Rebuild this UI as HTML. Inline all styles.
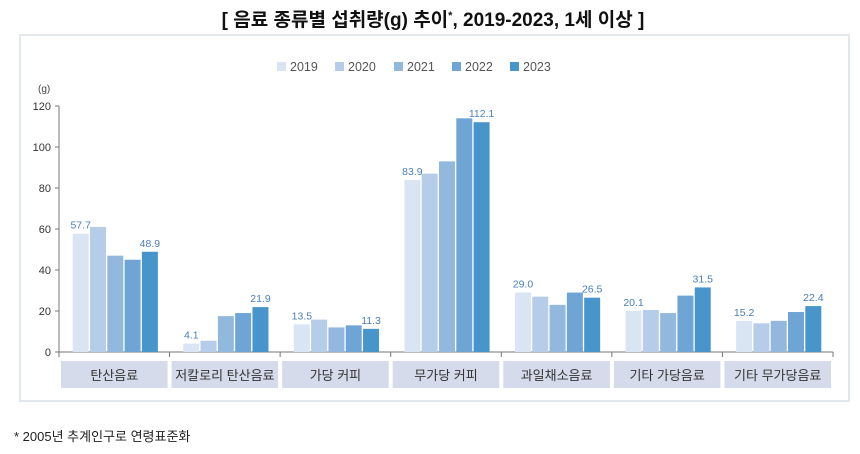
<!DOCTYPE html>
<html><head><meta charset="utf-8">
<style>
body{margin:0;background:#fff;font-family:"Liberation Sans","Noto Sans CJK KR",sans-serif;}
#wrap{position:relative;width:860px;height:454px;overflow:hidden;}
</style></head>
<body>
<div id="wrap">
<svg id="chart" width="860" height="454" xmlns="http://www.w3.org/2000/svg">
<text x="433" y="26" text-anchor="middle" font-size="19" font-weight="bold" fill="#111" font-family="Liberation Sans, Noto Sans CJK KR, sans-serif">[ 음료 종류별 섭취량(g) 추이<tspan font-size="11" dy="-7">*</tspan><tspan dy="7">, 2019-2023, 1세  이상 ]</tspan></text>
<rect x="20" y="35" width="829" height="366" fill="none" stroke="#e3e8ef" stroke-width="2"/>
<text x="38" y="92" font-size="10" fill="#444">(g)</text>
<g id="axes"></g><g id="bars"></g><g id="legend"></g>
<text x="14" y="441" font-size="13" fill="#222">*  2005년 추계인구로 연령표준화</text>
</svg>
</div>
<script>
const categories=["탄산음료","저칼로리 탄산음료","가당 커피","무가당 커피","과일채소음료","기타 가당음료","기타 무가당음료"];
const years=["2019","2020","2021","2022","2023"];
const s2019=[57.7,4.1,13.5,83.9,29.0,20.1,15.2];
const s2020=[61,5.5,15.8,87,27,20.5,14];
const s2021=[47,17.5,12,93,23,19,15.2];
const s2022=[45,19,13,114,29,27.5,19.5];
const s2023=[48.9,21.9,11.3,112.1,26.5,31.5,22.4];
const yTicks=[0,20,40,60,80,100,120];
const labelFirst=["57.7","4.1","13.5","83.9","29.0","20.1","15.2"];
const labelLast=["48.9","21.9","11.3","112.1","26.5","31.5","22.4"];
const series=[s2019,s2020,s2021,s2022,s2023];
const colors=["#dae5f3","#b5cde8","#93b8de","#6ea5d5","#4895cb"];
const NS="http://www.w3.org/2000/svg";
const x0=59,x1=833,yBase=352,yTop=106,yMax=120;
const gw=(x1-x0)/categories.length;
const y=v=>yBase-(v/yMax)*(yBase-yTop);
function mk(t,a,p){const e=document.createElementNS(NS,t);for(const k in a)e.setAttribute(k,a[k]);p.appendChild(e);return e;}
const axes=document.getElementById('axes'),bars=document.getElementById('bars'),legend=document.getElementById('legend');
let ax=mk('line',{x1:x0,y1:yTop,x2:x0,y2:yBase,stroke:'#777'},axes);


let bx=mk('line',{x1:x0,y1:yBase,x2:x1,y2:yBase,stroke:'#777'},axes);


yTicks.forEach(t=>{
 mk('line',{x1:x0-4,y1:y(t),x2:x0,y2:y(t),stroke:'#777'},axes);
 const tx=mk('text',{x:x0-8,y:y(t)+4,'text-anchor':'end','font-size':11,fill:'#333'},axes);
 tx.textContent=t;
 
 
});
for(let i=0;i<=categories.length;i++){mk('line',{x1:x0+i*gw,y1:yBase,x2:x0+i*gw,y2:yBase+5,stroke:'#777'},axes);}
const bw=16,step=17.3;
categories.forEach((c,i)=>{
 const gx=x0+i*gw;
 const start=gx+(gw-(step*4+bw))/2+1;
 series.forEach((s,j)=>{
  const r=mk('rect',{x:start+j*step,y:y(s[i]),width:bw,height:yBase-y(s[i]),fill:colors[j]},bars);
  
  
 });
 const l1=mk('text',{x:start+bw/2,y:y(s2019[i])-5,'text-anchor':'middle','font-size':10.5,fill:'#4a7fb5'},bars);
 l1.textContent=labelFirst[i];
 
 
 const l2=mk('text',{x:start+4*step+bw/2,y:y(s2023[i])-5,'text-anchor':'middle','font-size':10.5,fill:'#4a7fb5'},bars);
 l2.textContent=labelLast[i];
 
 
 const b=mk('rect',{x:gx+2,y:361,width:gw-4,height:27,fill:'#d5dbea'},axes);
 
 
 const ct=mk('text',{x:gx+gw/2,y:380,'text-anchor':'middle','font-size':13,fill:'#333'},axes);
 ct.textContent=c;
 
 
});
const lx=[277,335,394,452,510];
years.forEach((yr,j)=>{
 const g=mk('g',{},legend);
 
 
 mk('rect',{x:lx[j],y:62,width:9,height:9,fill:colors[j]},g);
 const t=mk('text',{x:lx[j]+13,y:71,'font-size':12.5,fill:'#555'},g);
 t.textContent=yr;
});
</script>
</body></html>
